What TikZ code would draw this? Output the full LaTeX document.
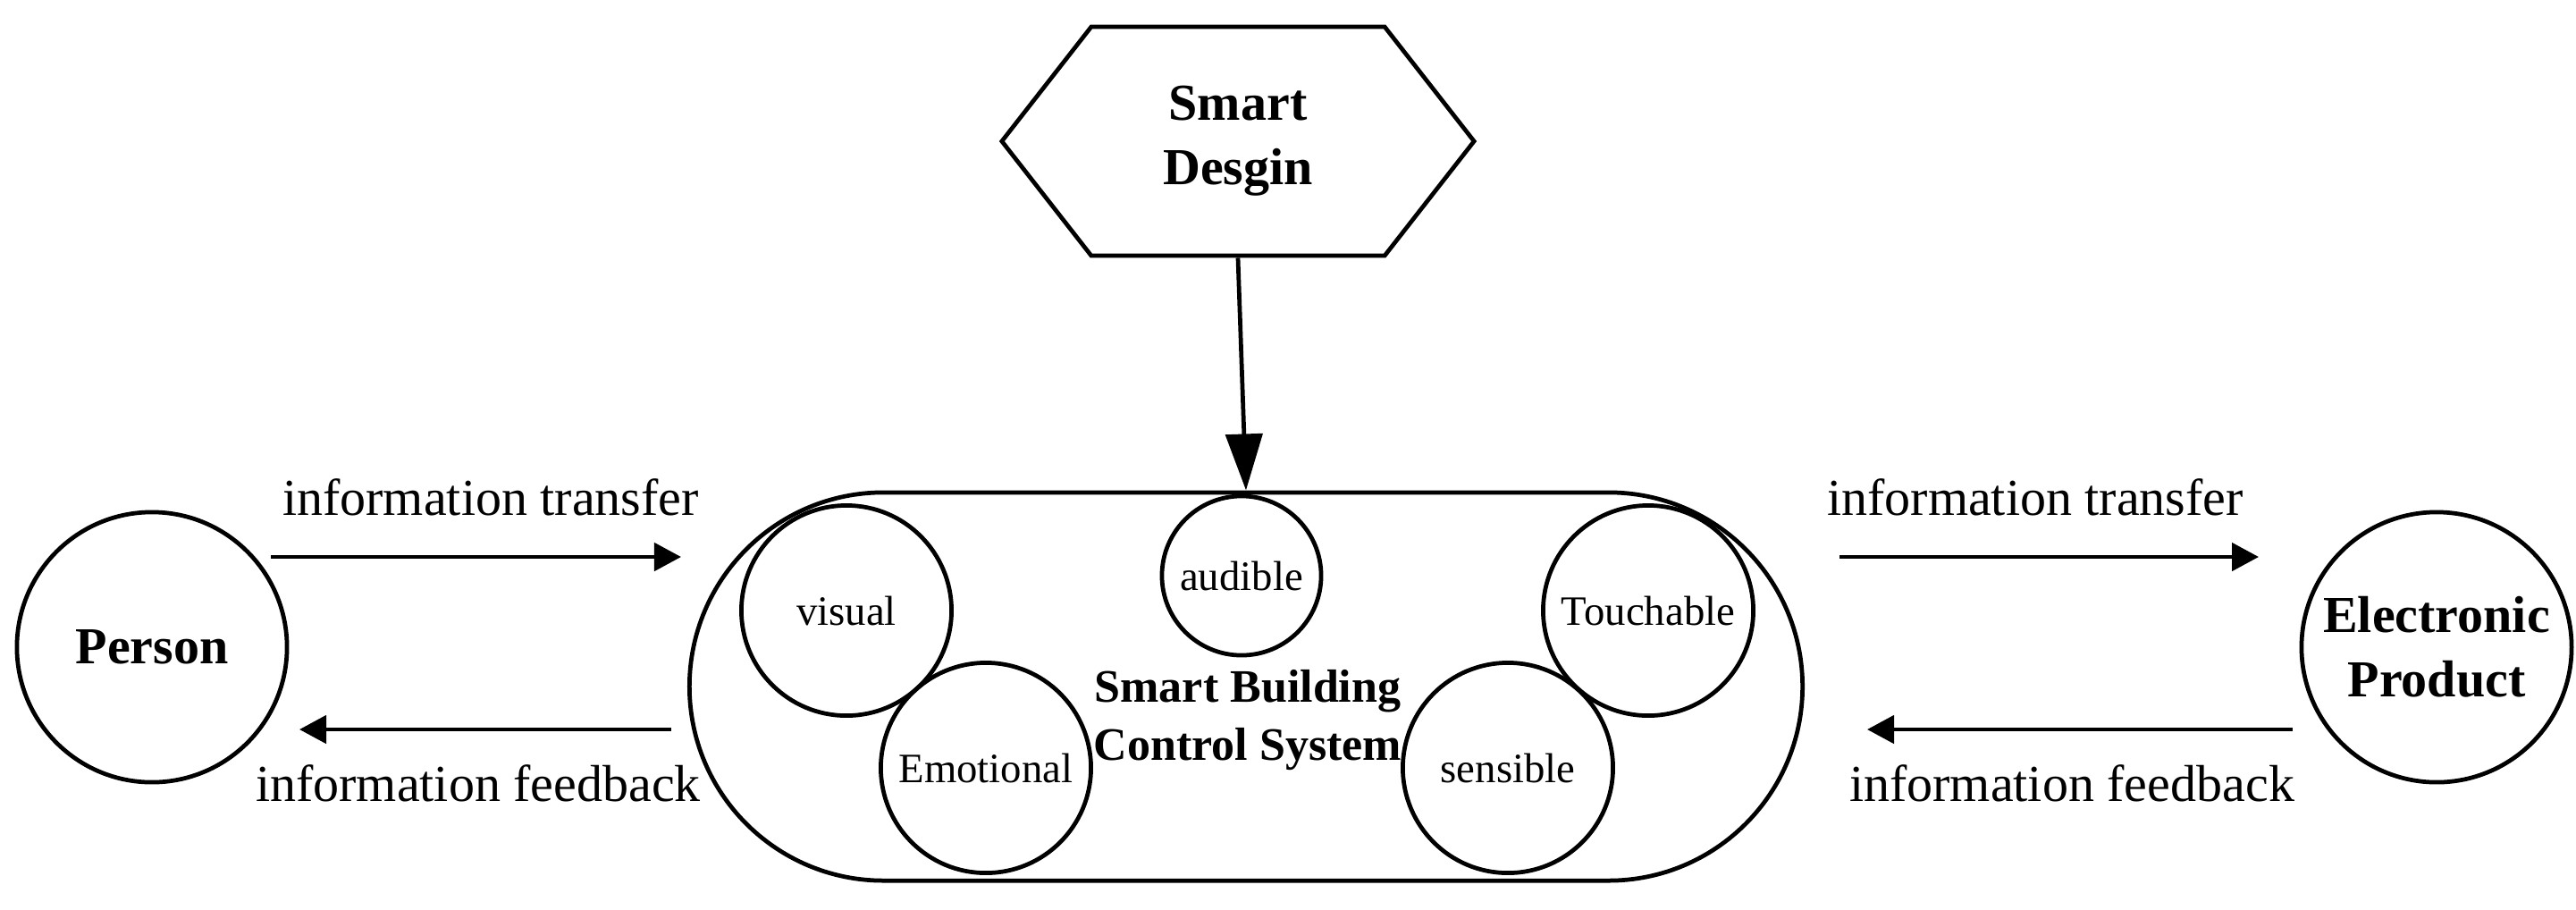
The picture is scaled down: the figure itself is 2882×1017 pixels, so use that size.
\documentclass[tikz,border=0pt]{standalone}
\usepackage{fontspec}
\setmainfont{Liberation Serif}
\usetikzlibrary{shapes.misc,shapes.symbols,arrows.meta,positioning}

\begin{document}
\begin{tikzpicture}[x=0.01cm, y=-0.01cm, line width=1.35pt,
    bignode/.style={circle, draw, minimum size=3.02cm, inner sep=0pt, align=center, font=\fontsize{16.5}{20.5}\selectfont\bfseries},
    sense/.style={circle, draw, minimum size=2.35cm, inner sep=0pt, font=\fontsize{13.3}{15}\selectfont},
    infotext/.style={anchor=base, inner sep=0pt, font=\fontsize{16.5}{20}\selectfont},
    flow/.style={-{Triangle[length=0.3cm,width=0.31cm]}}]
    \useasboundingbox (0,0) rectangle (2882,1017);

    \node (person) [bignode] at (170,724) {Person};
    \node (product) [bignode] at (2726,724) {Electronic\\Product};
    \node (design) [signal, signal to=west and east, signal pointer angle=104, draw, minimum width=5.28cm, minimum height=2.56cm, align=center, font=\fontsize{16.5}{20.5}\selectfont\bfseries] at (1385,158) {Smart\\Desgin};

    % control system with its five senses
    \node (sbcs) [rounded rectangle, draw, minimum width=12.68cm, minimum height=4.34cm] at (1394,768) {};
    \node (sbcstext) [align=center, font=\fontsize{14.8}{18.5}\selectfont\bfseries] at (1396,806) {Smart Building\\Control System};
    \node (visual) [sense] at (947,683) {visual};
    \node (emotional) [sense] at (1103,859) {Emotional};
    \node (audible) [sense, minimum size=1.78cm] at (1389,644) {audible};
    \node (touchable) [sense] at (1844,683) {Touchable};
    \node (sensible) [sense] at (1687,859) {sensible};

    \draw [-{Triangle[length=0.63cm,width=0.41cm]}] (design.south) -- (sbcs.north);

    % information flows
    \coordinate (lt1) at (303,623);
    \coordinate (lt2) at (762,623);
    \coordinate (lb1) at (751,816);
    \coordinate (lb2) at (335,816);
    \coordinate (rt1) at (2058,623);
    \coordinate (rt2) at (2527,623);
    \coordinate (rb1) at (2565,816);
    \coordinate (rb2) at (2089,816);
    \draw [flow] (lt1) -- (lt2);
    \draw [flow] (lb1) -- (lb2);
    \draw [flow] (rt1) -- (rt2);
    \draw [flow] (rb1) -- (rb2);

    \node (ltlabel) [infotext] at (549,576) {information transfer};
    \node (lblabel) [infotext] at (535,896) {information feedback};
    \node (rtlabel) [infotext] at (2277,576) {information transfer};
    \node (rblabel) [infotext] at (2318,896) {information feedback};
\end{tikzpicture}
\end{document}
